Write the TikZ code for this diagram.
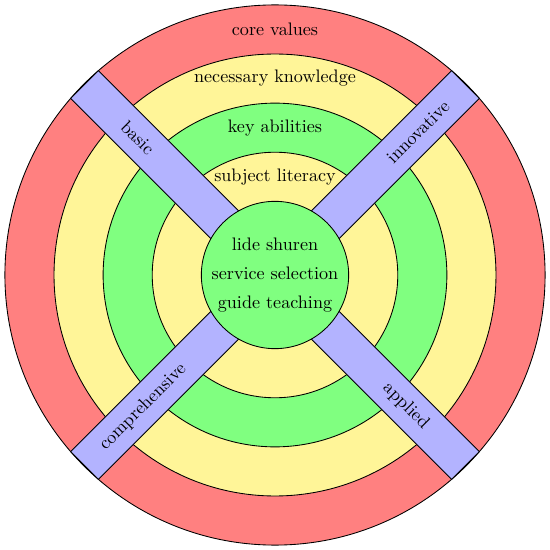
\documentclass[tikz,border=0pt]{standalone}
\definecolor{ringred}{RGB}{255,128,128}
\definecolor{ringyellow}{RGB}{255,245,152}
\definecolor{ringgreen}{RGB}{128,255,128}
\definecolor{stripblue}{RGB}{179,179,255}
\begin{document}
\begin{tikzpicture}
\tikzset{
  every node/.style={font=\fontsize{10.5pt}{12.6pt}\selectfont},
  ring/.style={draw=black, line width=0.5pt},
  strip/.style={draw=black, fill=stripblue, line width=0.5pt},
  lbl/.style={inner sep=1pt},
}
\useasboundingbox (-5.6,-5.6) rectangle (5.6,5.6);
\fill[ring, fill=ringred] (0,0) circle (5.5);
\fill[ring, fill=ringyellow] (0,0) circle (4.5);
\fill[ring, fill=ringgreen] (0,0) circle (3.5);
\fill[ring, fill=ringyellow] (0,0) circle (2.5);
\foreach \a in {45,135,225,315}{
  \draw[strip, rotate=\a] (0,-0.4) rectangle (5.4855,0.4);
}
\node[circle, draw=black, fill=ringgreen, minimum size=3cm, inner sep=0pt, align=center, line width=0.5pt] (core)
  {lide shuren\\[4pt]service selection\\[4pt]guide teaching};
\node[lbl] (cv) at (0,5) {core values};
\node[lbl] (nk) at (0,4) {necessary knowledge};
\node[lbl] (ka) at (0,3) {key abilities};
\node[lbl] (sl) at (0,2) {subject literacy};
\node[lbl, rotate=-45] (basic) at (135:3.95) {basic};
\node[lbl, rotate=45] (innov) at (45:4.12) {innovative};
\node[lbl, rotate=45] (comp) at (225:3.8) {comprehensive};
\node[lbl, rotate=-45] (appl) at (-45:3.77) {applied};
\end{tikzpicture}
\end{document}
